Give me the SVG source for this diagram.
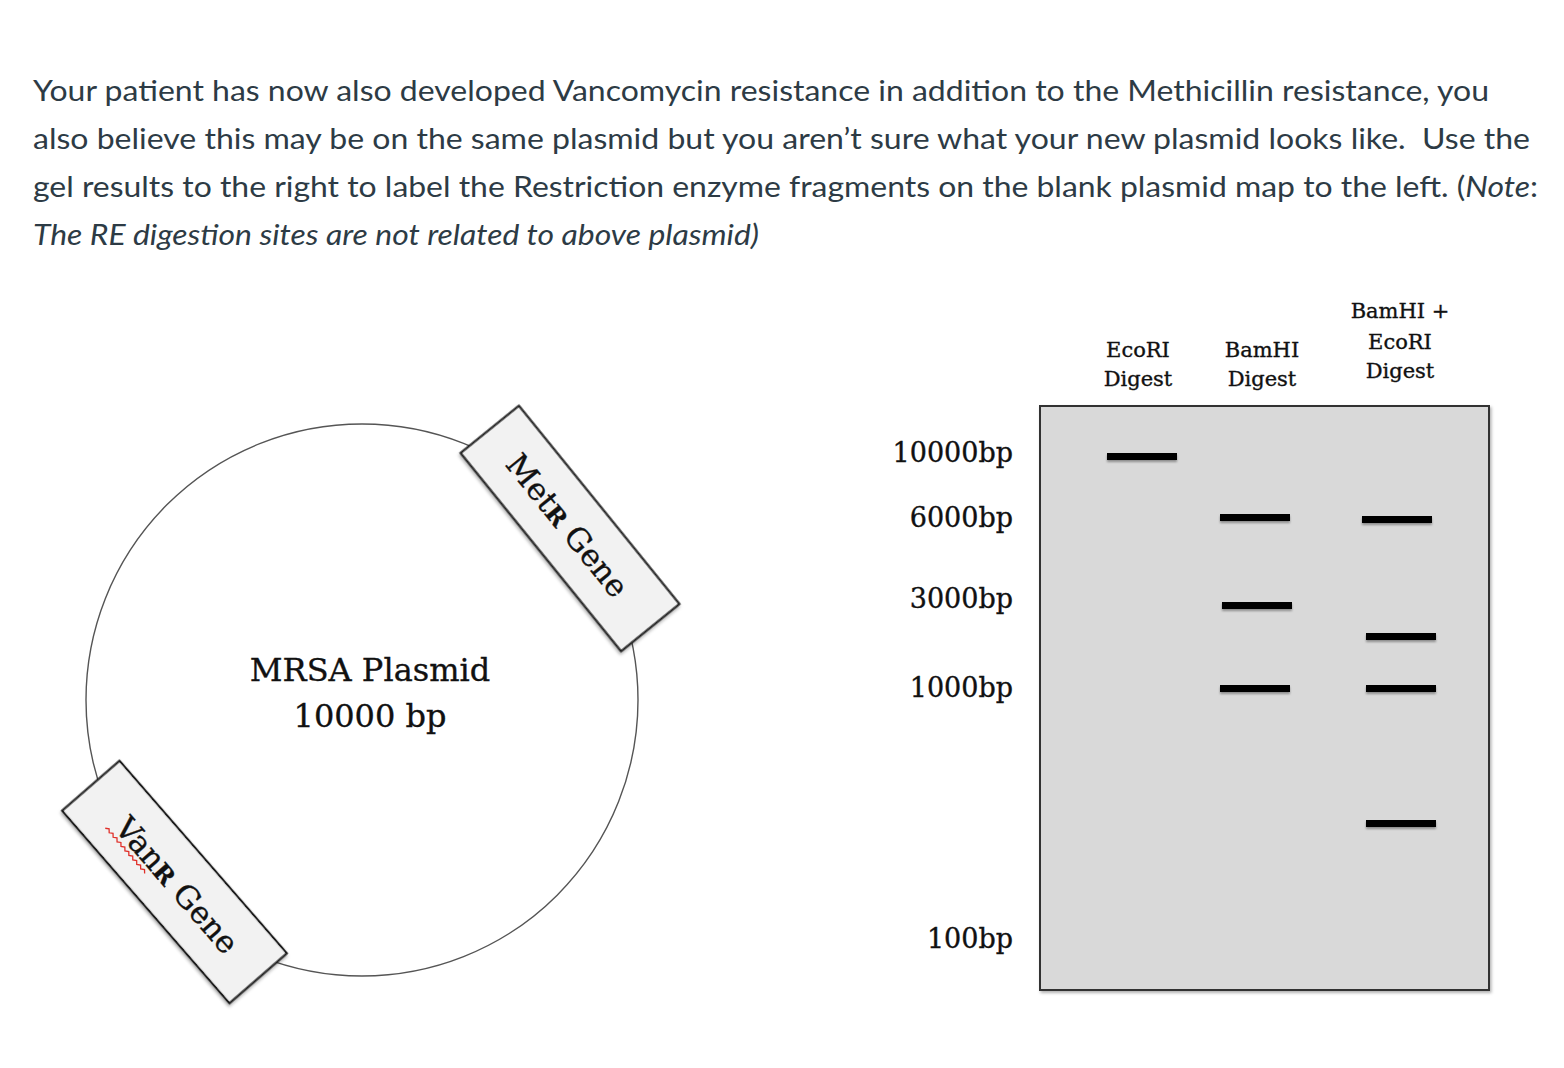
<svg xmlns="http://www.w3.org/2000/svg" width="1564" height="1068" viewBox="0 0 1564 1068">
<style>
.hdr{font-family:Lato,"Open Sans",sans-serif;font-size:29px;fill:#2d3b45;white-space:pre}
.it{font-style:italic}
.ser{font-family:"DejaVu Serif","Liberation Serif",serif;fill:#111;stroke:#111;stroke-width:0.35}
.lane{font-size:21px;text-anchor:middle}
.mk{font-size:27px;text-anchor:end}
.gene{font-size:31px}
.band{fill:#000;filter:url(#bsh)}
.genebox{fill:#f2f2f2;stroke:#1e1e1e;stroke-width:2.2;filter:url(#sh)}
</style>
<defs>
<filter id="sh" x="-10%" y="-10%" width="130%" height="130%">
<feDropShadow dx="1.5" dy="2" stdDeviation="1.5" flood-color="#000" flood-opacity="0.3"/>
</filter>
<filter id="bsh" x="-10%" y="-50%" width="120%" height="250%">
<feDropShadow dx="0" dy="2" stdDeviation="1.2" flood-color="#000" flood-opacity="0.35"/>
</filter>
</defs>
<g id="header">
<text class="hdr" x="33" y="101" textLength="1456" lengthAdjust="spacingAndGlyphs">Your patient has now also developed Vancomycin resistance in addition to the Methicillin resistance, you</text>
<text class="hdr" x="33" y="149" textLength="1497" lengthAdjust="spacingAndGlyphs">also believe this may be on the same plasmid but you aren’t sure what your new plasmid looks like.  Use the</text>
<text class="hdr" x="33" y="197" textLength="1505" lengthAdjust="spacingAndGlyphs">gel results to the right to label the Restriction enzyme fragments on the blank plasmid map to the left. (<tspan class="it">Note</tspan>:</text>
<text class="hdr it" x="33" y="245" textLength="726" lengthAdjust="spacingAndGlyphs">The RE digestion sites are not related to above plasmid)</text>
</g>
<g id="plasmid">
<circle cx="362" cy="700" r="276" fill="none" stroke="#555" stroke-width="1.4"/>
<text class="ser" x="370" y="681" font-size="32" text-anchor="middle">MRSA Plasmid</text>
<text class="ser" x="370" y="727" font-size="32" text-anchor="middle">10000 bp</text>
</g>
<g id="metr-gene" transform="translate(570 528.5) rotate(51)">
<rect class="genebox" x="-127.5" y="-37.5" width="255" height="75"/>
<text class="ser gene" x="-4" y="11" text-anchor="middle">Met<tspan font-weight="bold" font-size="24">R</tspan> Gene</text>
</g>
<g id="vanr-gene" transform="translate(174.5 882) rotate(49)">
<rect class="genebox" x="-127.5" y="-38" width="255" height="76"/>
<text class="ser gene" x="4" y="11" text-anchor="middle">Van<tspan font-weight="bold" font-size="24">R</tspan> Gene</text>
<path d="M-86 17 l3 -2.5 l3 2.5 l3 -2.5 l3 2.5 l3 -2.5 l3 2.5 l3 -2.5 l3 2.5 l3 -2.5 l3 2.5 l3 -2.5 l3 2.5 l3 -2.5 l3 2.5 l3 -2.5 l3 2.5 l3 -2.5 l3 2.5 l3 -2.5 l3 2.5" fill="none" stroke="#e0302a" stroke-width="1.3"/>
</g>
<g id="gel">
<rect x="1040" y="406" width="449" height="584" fill="#d9d9d9" stroke="#333" stroke-width="2" filter="url(#sh)"/>
<g id="lane-labels" class="ser lane">
<text x="1138" y="357">EcoRI</text>
<text x="1138" y="386">Digest</text>
<text x="1262" y="357">BamHI</text>
<text x="1262" y="386">Digest</text>
<text x="1400" y="318">BamHI +</text>
<text x="1400" y="349">EcoRI</text>
<text x="1400" y="378">Digest</text>
</g>
<g id="markers" class="ser mk">
<text x="1013" y="462">10000bp</text>
<text x="1013" y="527">6000bp</text>
<text x="1013" y="608">3000bp</text>
<text x="1013" y="697">1000bp</text>
<text x="1013" y="948">100bp</text>
</g>
<g id="bands">
<rect class="band" x="1107" y="453" width="70" height="7"/>
<rect class="band" x="1220" y="514" width="70" height="7"/>
<rect class="band" x="1222" y="602" width="70" height="7"/>
<rect class="band" x="1220" y="685" width="70" height="7"/>
<rect class="band" x="1362" y="516" width="70" height="7"/>
<rect class="band" x="1366" y="633" width="70" height="7"/>
<rect class="band" x="1366" y="685" width="70" height="7"/>
<rect class="band" x="1366" y="820" width="70" height="7"/>
</g>
</g>
</svg>
